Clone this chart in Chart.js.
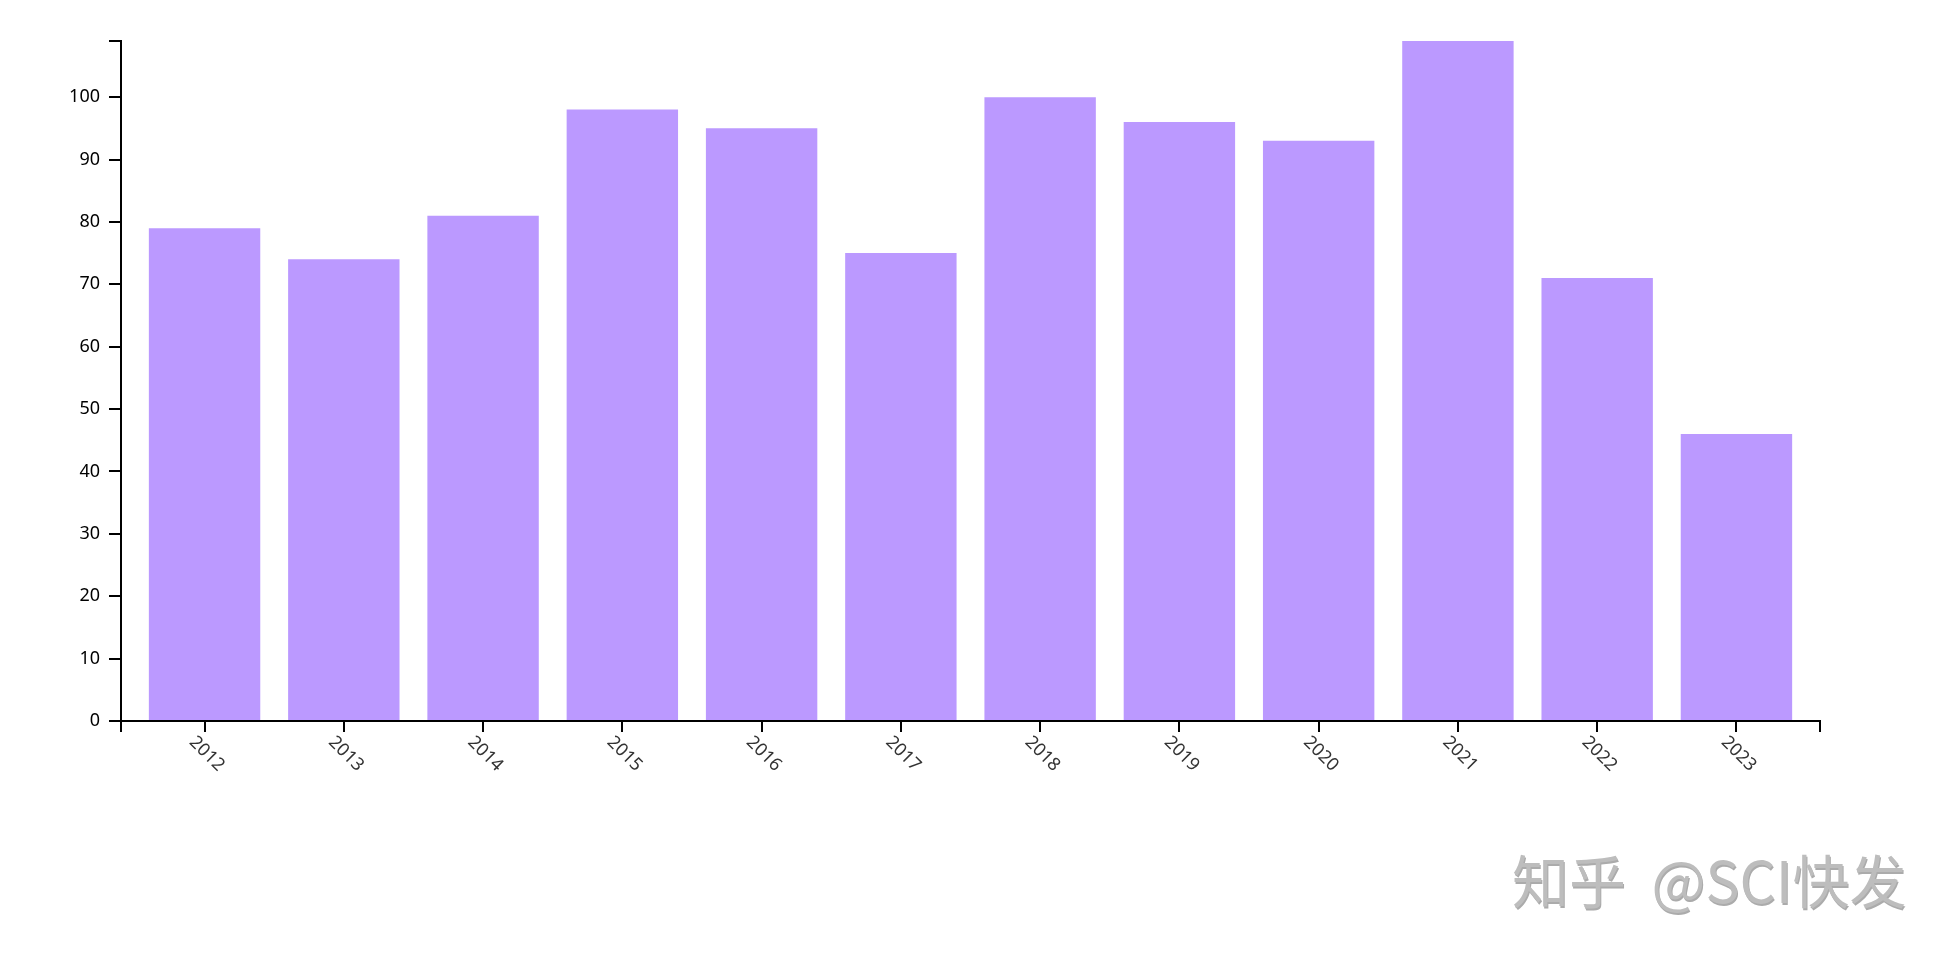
<!DOCTYPE html>
<html>
<head>
<meta charset="utf-8">
<script src="https://cdn.jsdelivr.net/npm/chart.js@4.4.1/dist/chart.umd.min.js"></script>
<style>
  html, body { margin: 0; padding: 0; background: #fff; overflow: hidden; }
  #wrap { position: relative; width: 1960px; height: 960px; }
  #wm {
    position: absolute; left: 1512px; top: 837px;
    font-family: "Noto Sans CJK SC", "Noto Sans", sans-serif;
    font-size: 57px; color: #bdbdbd; white-space: pre;
    text-shadow: 1px 2px 0 #ababab;
  }
</style>
</head>
<body>
<div id="wrap">
  <canvas id="c" width="1960" height="960"></canvas>
  <div id="wm">知乎  @SCI快发</div>
</div>
<script>
// ---- data ----
const years  = ['2012','2013','2014','2015','2016','2017','2018','2019','2020','2021','2022','2023'];
const values = [79, 74, 81, 98, 95, 75, 100, 96, 93, 109, 71, 46];
const yTicks = [0, 10, 20, 30, 40, 50, 60, 70, 80, 90, 100];
const yMax   = 109;

// ---- style / layout constants ----
const barColor = '#bb99ff';
const bandPad = 0.6;          // outer padding of band scale (in band units)
const bandFill = 0.8;         // bar width as fraction of band step
const axisColor = '#000';

const points = years.map((y, i) => ({ x: i, y: values[i] }));

const xLabelPlugin = {
  id: 'xLabels',
  afterDraw(chart) {
    const xs = chart.scales.x;
    const ctx = chart.ctx;
    ctx.save();
    ctx.font = '18px "Noto Sans", sans-serif';
    ctx.fillStyle = '#333';
    ctx.textAlign = 'left';
    ctx.textBaseline = 'top';
    years.forEach((lab, i) => {
      const px = xs.getPixelForValue(i);
      const py = xs.top + 11;
      ctx.save();
      ctx.translate(px - 6, py + 1);
      ctx.rotate(Math.PI / 4);
      ctx.fillText(lab, 0, 0);
      ctx.restore();
    });
    ctx.restore();
  }
};

new Chart(document.getElementById('c'), {
  type: 'bar',
  data: {
    datasets: [{
      data: points,
      backgroundColor: barColor,
      borderWidth: 0,
      // smallest tick gap is the outer pad (bandPad), so scale the fill accordingly
      categoryPercentage: bandFill / bandPad,
      barPercentage: 1.0
    }]
  },
  options: {
    responsive: false,
    animation: false,
    layout: { padding: { top: 41, left: 0, right: 140, bottom: 179 } },
    plugins: { legend: { display: false }, tooltip: { enabled: false } },
    scales: {
      x: {
        type: 'linear',
        min: -bandPad,
        max: years.length - 1 + bandPad,
        offset: false,
        afterBuildTicks(scale) {
          scale.ticks = [scale.min, ...years.map((_, i) => i), scale.max].map(v => ({ value: v }));
        },
        afterFit(scale) { scale.height = 60; },
        ticks: { display: false },
        grid: {
          display: true, drawOnChartArea: false, drawTicks: true, offset: false,
          tickLength: 11, color: axisColor, lineWidth: 2
        },
        border: { display: true, color: axisColor, width: 2 }
      },
      y: {
        type: 'linear',
        min: 0,
        max: yMax,
        afterBuildTicks(scale) {
          scale.ticks = [...yTicks, yMax].map(v => ({ value: v }));
        },
        afterFit(scale) { scale.width = 121; },
        ticks: {
          color: '#000',
          padding: 9,
          font: { family: '"Noto Sans", sans-serif', size: 18 },
          callback: (v) => yTicks.includes(v) ? String(v) : ''
        },
        grid: {
          display: true, drawOnChartArea: false, drawTicks: true,
          tickLength: 12, color: axisColor, lineWidth: 2
        },
        border: { display: true, color: axisColor, width: 2 }
      }
    }
  },
  plugins: [xLabelPlugin]
});
</script>
</body>
</html>
